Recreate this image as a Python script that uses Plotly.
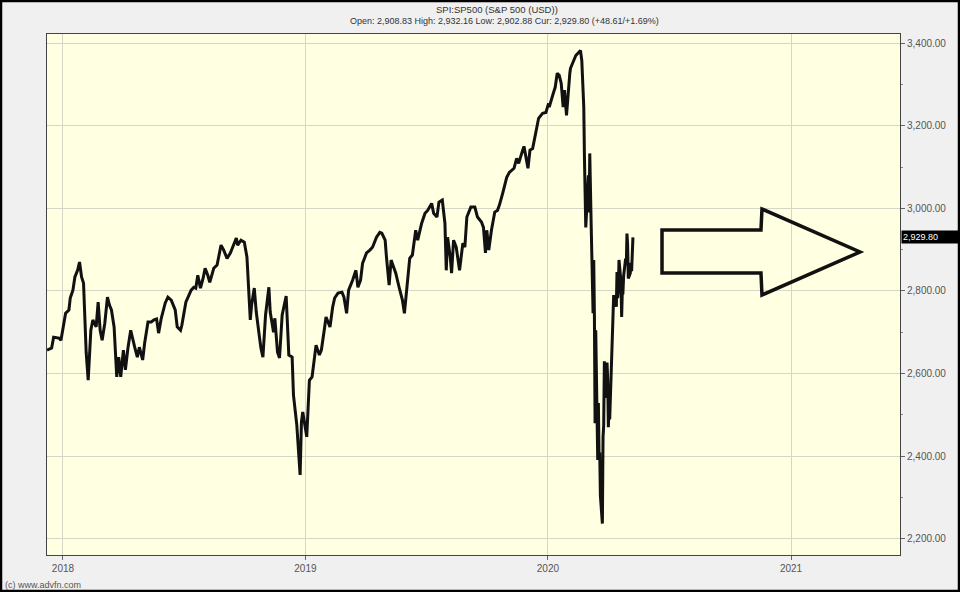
import plotly.graph_objects as go

dates = [
    "2017-12-08", "2017-12-15", "2017-12-18", "2017-12-26", "2017-12-29",
    "2018-01-02", "2018-01-05", "2018-01-10", "2018-01-12", "2018-01-16", "2018-01-19", "2018-01-23", "2018-01-26", "2018-01-29",
    "2018-02-01", "2018-02-05", "2018-02-08", "2018-02-12", "2018-02-15", "2018-02-20", "2018-02-23", "2018-02-26",
    "2018-03-01", "2018-03-05", "2018-03-09", "2018-03-12", "2018-03-15", "2018-03-19", "2018-03-23", "2018-03-26", "2018-03-29",
    "2018-04-02", "2018-04-05", "2018-04-09", "2018-04-13", "2018-04-19", "2018-04-23", "2018-04-26",
    "2018-05-01", "2018-05-04", "2018-05-09", "2018-05-14", "2018-05-18", "2018-05-22", "2018-05-25", "2018-05-29",
    "2018-06-04", "2018-06-08", "2018-06-13", "2018-06-19", "2018-06-22", "2018-06-27", "2018-06-29",
    "2018-07-05", "2018-07-09", "2018-07-13", "2018-07-17", "2018-07-20", "2018-07-23", "2018-07-27", "2018-07-31",
    "2018-08-03", "2018-08-07", "2018-08-10", "2018-08-16", "2018-08-21", "2018-08-27", "2018-08-31",
    "2018-09-05", "2018-09-10", "2018-09-13", "2018-09-19", "2018-09-21", "2018-09-26",
    "2018-10-01", "2018-10-05", "2018-10-10", "2018-10-12", "2018-10-16", "2018-10-19", "2018-10-24", "2018-10-26", "2018-10-29",
    "2018-11-02", "2018-11-07", "2018-11-09", "2018-11-14", "2018-11-16", "2018-11-20", "2018-11-23", "2018-11-27",
    "2018-12-03", "2018-12-05", "2018-12-07", "2018-12-12", "2018-12-14", "2018-12-19", "2018-12-24", "2018-12-26", "2018-12-28",
    "2019-01-03", "2019-01-07", "2019-01-11", "2019-01-17", "2019-01-22", "2019-01-25", "2019-01-30",
    "2019-02-01", "2019-02-07", "2019-02-11", "2019-02-14", "2019-02-19", "2019-02-25", "2019-02-28",
    "2019-03-04", "2019-03-07", "2019-03-13", "2019-03-18", "2019-03-21", "2019-03-25", "2019-03-28",
    "2019-04-03", "2019-04-08", "2019-04-12", "2019-04-18", "2019-04-23", "2019-04-26",
    "2019-05-01", "2019-05-03", "2019-05-07", "2019-05-10", "2019-05-14", "2019-05-17", "2019-05-22", "2019-05-27", "2019-05-30",
    "2019-06-03", "2019-06-07", "2019-06-11", "2019-06-16", "2019-06-19", "2019-06-25", "2019-06-30",
    "2019-07-04", "2019-07-10", "2019-07-13", "2019-07-18", "2019-07-21", "2019-07-26", "2019-07-30",
    "2019-08-01", "2019-08-03", "2019-08-07", "2019-08-09", "2019-08-12", "2019-08-16", "2019-08-21", "2019-08-26", "2019-08-29",
    "2019-09-01", "2019-09-07", "2019-09-13", "2019-09-17", "2019-09-23", "2019-09-26", "2019-09-29",
    "2019-10-01", "2019-10-04", "2019-10-08", "2019-10-13", "2019-10-17", "2019-10-20", "2019-10-25", "2019-10-31",
    "2019-11-04", "2019-11-11", "2019-11-15", "2019-11-18", "2019-11-24", "2019-11-26",
    "2019-12-02", "2019-12-05", "2019-12-09", "2019-12-14", "2019-12-18", "2019-12-24", "2019-12-29",
    "2020-01-02", "2020-01-03", "2020-01-09", "2020-01-12", "2020-01-15", "2020-01-18", "2020-01-21", "2020-01-24", "2020-01-26", "2020-01-29",
    "2020-02-03", "2020-02-04", "2020-02-12", "2020-02-16", "2020-02-19", "2020-02-21", "2020-02-24", "2020-02-25", "2020-02-27",
    "2020-03-02", "2020-03-03", "2020-03-04", "2020-03-05", "2020-03-06", "2020-03-09", "2020-03-10", "2020-03-11", "2020-03-12",
    "2020-03-13", "2020-03-16", "2020-03-17", "2020-03-18", "2020-03-19", "2020-03-20", "2020-03-23", "2020-03-24", "2020-03-25",
    "2020-03-26", "2020-03-27", "2020-03-30", "2020-03-31",
    "2020-04-01", "2020-04-02", "2020-04-03", "2020-04-06", "2020-04-07", "2020-04-08", "2020-04-09", "2020-04-13", "2020-04-14",
    "2020-04-15", "2020-04-16", "2020-04-17", "2020-04-20", "2020-04-21", "2020-04-22", "2020-04-23", "2020-04-24", "2020-04-27",
    "2020-04-28", "2020-04-29", "2020-04-30",
    "2020-05-01", "2020-05-04", "2020-05-05", "2020-05-06", "2020-05-07", "2020-05-08",
]

closes = [
    2657, 2662, 2688, 2686, 2681,
    2722, 2746, 2754, 2783, 2802, 2834, 2850, 2870, 2834,
    2819, 2650, 2584, 2705, 2730, 2713, 2773, 2705,
    2681, 2722, 2785, 2766, 2754, 2713, 2592, 2640, 2592,
    2657, 2609, 2664, 2705, 2664, 2640, 2664,
    2633, 2674, 2725, 2725, 2730, 2732, 2698, 2734,
    2771, 2785, 2778, 2754, 2713, 2705, 2717,
    2773, 2790, 2802, 2809, 2807, 2838, 2807, 2831,
    2855, 2838, 2821, 2855, 2863, 2911, 2899,
    2879, 2892, 2904, 2928, 2911, 2923,
    2918, 2882, 2730, 2766, 2807, 2749, 2686, 2662, 2640,
    2742, 2809, 2749, 2700, 2734, 2652, 2638, 2742,
    2788, 2717, 2645, 2640, 2548, 2476, 2355, 2483, 2507,
    2447, 2584, 2592, 2669, 2645, 2657, 2713,
    2737, 2713, 2761, 2783, 2795, 2797, 2785,
    2746, 2802, 2826, 2850, 2809, 2826, 2867,
    2892, 2899, 2906, 2930, 2942, 2940,
    2923, 2882, 2814, 2875, 2858, 2843, 2809, 2778, 2746,
    2819, 2879, 2887, 2947, 2923, 2964, 2988,
    2995, 3012, 2988, 2979, 3015, 3020, 2964,
    2850, 2930, 2882, 2843, 2923, 2906, 2850, 2916, 2906,
    2979, 3003, 3003, 2979, 2967, 2954, 2892,
    2947, 2899, 2947, 2991, 2995, 3008, 3037, 3075,
    3087, 3097, 3121, 3109, 3141, 3150,
    3097, 3141, 3145, 3184, 3218, 3230, 3232,
    3254, 3245, 3278, 3293, 3327, 3322, 3303, 3245, 3286, 3225,
    3327, 3339, 3370, 3378, 3382, 3358, 3245, 3124, 2954,
    3080, 2990, 3133, 3010, 2970, 2746, 2875, 2740, 2480,
    2705, 2391, 2529, 2398, 2409, 2304, 2237, 2447, 2475,
    2630, 2541, 2627, 2585,
    2470, 2527, 2489, 2664, 2659, 2750, 2790, 2762, 2846,
    2783, 2800, 2875, 2823, 2737, 2799, 2798, 2837, 2878,
    2863, 2939, 2912,
    2830, 2843, 2868, 2848, 2881, 2929.80,
]

year_ticks = ["2018-01-01", "2019-01-01", "2020-01-01", "2021-01-01"]
year_labels = ["2018", "2019", "2020", "2021"]

title_line1 = "SPI:SP500 (S&P 500 (USD))"
title_line2 = "Open: 2,908.83 High: 2,932.16 Low: 2,902.88 Cur: 2,929.80 (+48.61/+1.69%)"
current_label = "2,929.80"
copyright_text = "(c) www.advfn.com"

FONT = "Liberation Sans, Arial, sans-serif"
GRID = "#D6D6C6"

fig = go.Figure()
fig.add_trace(go.Scatter(
    x=dates, y=closes, mode="lines",
    line=dict(color="#111111", width=3),
    hoverinfo="x+y", showlegend=False,
))

W, H = 960, 592
L, R, T, B = 47, 60, 34, 37
PW, PH = W - L - R, H - T - B

def px(x):
    return (x - L) / PW

def py(y):
    return (H - B - y) / PH

arrow_pts = [(662, 230), (761, 230), (762, 209), (860, 252), (762, 295), (761, 273), (662, 273)]
path = "M " + " L ".join(f"{px(a):.4f},{py(b):.4f}" for a, b in arrow_pts) + " Z"

fig.update_layout(
    width=W, height=H,
    margin=dict(l=L, r=R, t=T, b=B),
    paper_bgcolor="#F0F0F0",
    plot_bgcolor="#FFFFE2",
    font=dict(family=FONT, size=9, color="#444444"),
    showlegend=False,
    xaxis=dict(
        type="date",
        range=["2017-12-08", "2021-06-14"],
        tickvals=year_ticks, ticktext=year_labels,
        showgrid=True, gridcolor=GRID, gridwidth=1,
        ticks="outside", ticklen=4, tickcolor="#666666",
        showline=True, linecolor="#444444", linewidth=1, mirror=True,
        tickfont=dict(family=FONT, size=10, color="#555555"),
        zeroline=False, fixedrange=True,
    ),
    yaxis=dict(
        side="right",
        range=[2161, 3422],
        tick0=2200, dtick=200,
        tickformat=",.2f",
        showgrid=True, gridcolor=GRID, gridwidth=1,
        ticks="outside", ticklen=4, tickcolor="#666666",
        minor=dict(dtick=100, tick0=2200, ticks="outside", ticklen=2, tickcolor="#888888", showgrid=False),
        showline=True, linecolor="#444444", linewidth=1, mirror=True,
        tickfont=dict(family=FONT, size=10, color="#555555"),
        zeroline=False, fixedrange=True,
    ),
    shapes=[
        dict(type="path", xref="paper", yref="paper", path=path,
             line=dict(color="#111111", width=3.5), fillcolor="rgba(0,0,0,0)", layer="above"),
        dict(type="rect", xref="paper", yref="paper",
             x0=px(1), x1=px(W - 1), y0=py(H - 1), y1=py(1),
             line=dict(color="#000000", width=2.5), fillcolor="rgba(0,0,0,0)", layer="above"),
    ],
    annotations=[
        dict(text=title_line1, xref="paper", yref="paper", x=px(497), y=py(9),
             xanchor="center", yanchor="middle", showarrow=False,
             font=dict(family=FONT, size=9.5, color="#333333")),
        dict(text=title_line2, xref="paper", yref="paper", x=px(505), y=py(21),
             xanchor="center", yanchor="middle", showarrow=False,
             font=dict(family=FONT, size=9, color="#333333")),
        dict(text=current_label, xref="paper", yref="y", x=1, y=closes[-1],
             xanchor="left", yanchor="middle", showarrow=False, xshift=1,
             bgcolor="#000000", width=54, align="left", borderpad=1,
             font=dict(family=FONT, size=9, color="#FFFFFF")),
        dict(text=copyright_text, xref="paper", yref="paper", x=px(3), y=py(585),
             xanchor="left", yanchor="middle", showarrow=False,
             font=dict(family=FONT, size=9, color="#555555")),
    ],
)

fig.write_html(
    "out.html",
    config={"displayModeBar": False},
    post_script="document.body.style.margin='0';document.body.style.overflow='hidden';",
)
